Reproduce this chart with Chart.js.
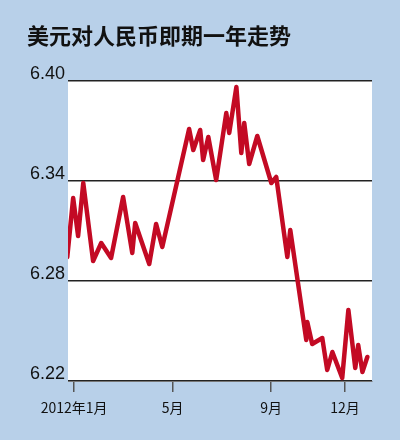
<!DOCTYPE html>
<html>
<head>
<meta charset="utf-8">
<script src="https://cdn.jsdelivr.net/npm/chart.js@4"></script>
<style>
    html, body { margin: 0; padding: 0; background: #b8d0e9; }
    #wrap { width: 400px; height: 440px; position: relative; }
</style>
</head>
<body>
<div id="wrap"><canvas id="rateChart"></canvas></div>
<script>
// months since start of Jan 2012 (0 = Jan, 4 = May ...)
const months = [
    -0.28, -0.04, 0.16, 0.37, 0.77, 1.10, 1.50, 1.99, 2.36, 2.48,
    3.05, 3.33, 3.58, 4.67, 4.84, 5.12, 5.24, 5.45, 5.77, 6.18,
    6.30, 6.59, 6.79, 6.91, 7.11, 7.44, 8.01, 8.21, 8.66, 8.78,
    9.43, 9.47, 9.67, 10.08, 10.28, 10.49, 10.89, 11.14, 11.42, 11.54,
    11.71, 11.91
];
// USD/CNY spot rate
const rates = [
    6.2944, 6.3298, 6.3070, 6.3388, 6.2920, 6.3028, 6.2938, 6.3304, 6.2968, 6.3148,
    6.2902, 6.3142, 6.3004, 6.3712, 6.3586, 6.3706, 6.3526, 6.3664, 6.3406, 6.3808,
    6.3688, 6.3964, 6.3568, 6.3748, 6.3502, 6.3670, 6.3388, 6.3424, 6.2944, 6.3106,
    6.2446, 6.2554, 6.2422, 6.2458, 6.2266, 6.2374, 6.2218, 6.2626, 6.2278, 6.2416,
    6.2254, 6.2344
];
const xTickValues = [0, 4, 8, 11];
const xTickLabels = ['2012年1月', '5月', '9月', '12月'];
const yTickValues = [6.22, 6.28, 6.34, 6.40];

document.addEventListener("DOMContentLoaded", function () {
    const ctx = document.getElementById('rateChart').getContext('2d');

    // white plot area on the blue page
    const plotBackground = {
        id: 'plotBackground',
        beforeDraw(chart) {
            const a = chart.chartArea;
            const c = chart.ctx;
            c.save();
            c.fillStyle = '#b8d0e9';
            c.fillRect(0, 0, chart.width, chart.height);
            c.fillStyle = '#ffffff';
            c.fillRect(a.left, a.top, a.right - a.left, a.bottom - a.top);
            c.restore();
        }
    };

    new Chart(ctx, {
        type: 'line',
        data: {
            datasets: [{
                data: months.map((m, i) => ({ x: m, y: rates[i] })),
                borderColor: '#c30a24',
                borderWidth: 4.5,
                borderJoinStyle: 'round',
                borderCapStyle: 'round',
                pointRadius: 0,
                tension: 0,
                fill: false
            }]
        },
        plugins: [plotBackground],
        options: {
            responsive: true,
            maintainAspectRatio: false,
            animation: false,
            layout: { padding: { left: 27, right: 28, top: 0, bottom: 0 } },
            plugins: {
                legend: { display: false },
                tooltip: { enabled: false },
                title: {
                    display: true,
                    text: '美元对人民币即期一年走势',
                    align: 'start',
                    color: '#111',
                    font: { family: 'Noto Sans CJK SC', size: 22, weight: 'bold' },
                    padding: { top: 22, bottom: 32.6 }
                }
            },
            scales: {
                x: {
                    type: 'linear',
                    min: -0.25,
                    max: 12.1,
                    afterBuildTicks: s => { s.ticks = xTickValues.map(v => ({ value: v })); },
                    afterFit: s => { s.height = 59; },
                    grid: { drawOnChartArea: false, drawTicks: true, tickLength: 11, color: '#555', lineWidth: 1.5 },
                    border: { display: true, color: '#777', width: 1 },
                    ticks: {
                        padding: 7,
                        maxRotation: 0,
                        autoSkip: false,
                        color: '#111',
                        font: { family: 'Noto Sans CJK SC', size: 14 },
                        callback: v => xTickLabels[xTickValues.indexOf(v)]
                    }
                },
                y: {
                    min: 6.22,
                    max: 6.40,
                    afterBuildTicks: s => { s.ticks = yTickValues.map(v => ({ value: v })); },
                    afterFit: s => { s.width = 41; },
                    grid: { drawTicks: false, color: '#222', lineWidth: 1.5 },
                    border: { display: false },
                    ticks: {
                        padding: 3,
                        labelOffset: -7,
                        color: '#111',
                        font: { family: 'Liberation Sans', size: 18 },
                        callback: v => v.toFixed(2)
                    }
                }
            }
        }
    });
});
</script>
</body>
</html>
